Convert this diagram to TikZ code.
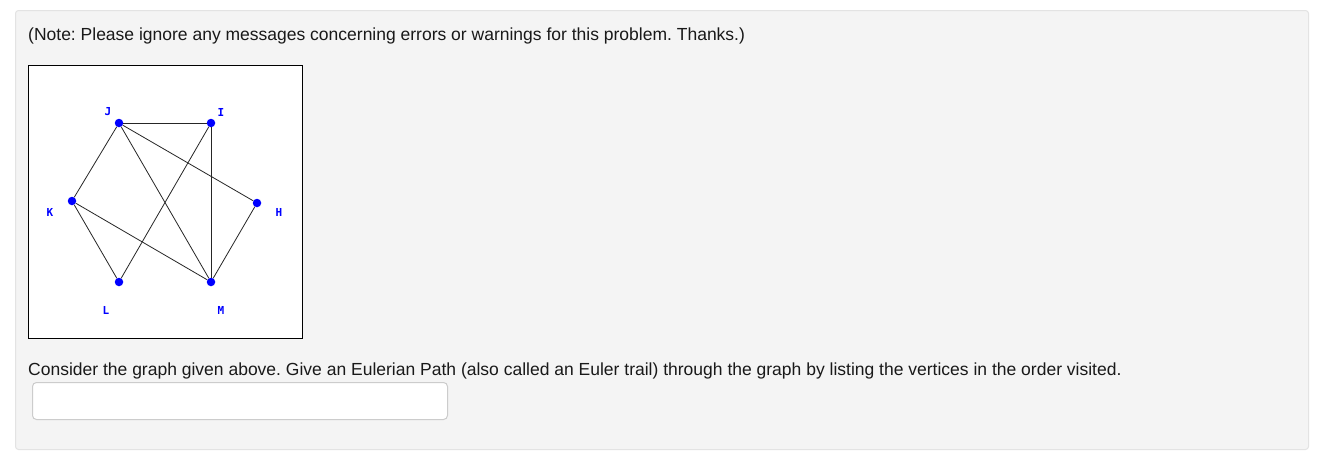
\documentclass[tikz,border=0pt]{standalone}
\usepackage{fontspec}
\setmainfont{Liberation Sans}
\newfontfamily\lblfont{DejaVu Sans Mono}
\definecolor{panelbg}{HTML}{F4F4F4}
\definecolor{panelbd}{HTML}{E3E3E3}
\definecolor{inputbd}{HTML}{CCCCCC}
\definecolor{vblue}{HTML}{0000FF}
\begin{document}
\begin{tikzpicture}[x=1pt,y=-1pt,
  vtx/.style={circle,fill=vblue,inner sep=0pt,minimum size=8.5pt},
  lbl/.style={text=vblue,font=\lblfont\bfseries\fontsize{11}{11}\selectfont,inner sep=0pt},
  edge/.style={draw=black!85,line width=0.8pt},
  txt/.style={anchor=base west,inner sep=0pt,font=\frenchspacing\fontsize{17.5}{20}\selectfont,text=black!90}]
\useasboundingbox (0,0) rectangle (1324,463);
\fill[white] (0,0) rectangle (1324,463);
\draw[fill=panelbg,draw=panelbd,rounded corners=3pt,line width=1pt] (15.5,10.5) rectangle (1308.5,449.5);
\node[txt] (note) at (28,40) {(Note: Please ignore any messages concerning errors or warnings for this problem. Thanks.)};
\draw[fill=white,draw=black,line width=1pt] (28.5,65.5) rectangle (302.5,338.5);
\node[vtx] (J) at (119,123) {};
\node[vtx] (I) at (211,123) {};
\node[vtx] (K) at (72,201) {};
\node[vtx] (H) at (257,203) {};
\node[vtx] (L) at (119,282) {};
\node[vtx] (M) at (211,282) {};
\draw[edge] (J) -- (I);
\draw[edge] (J) -- (K);
\draw[edge] (J) -- (M);
\draw[edge] (J) -- (H);
\draw[edge] (I) -- (L);
\draw[edge] (I) -- (M);
\draw[edge] (K) -- (L);
\draw[edge] (K) -- (M);
\draw[edge] (H) -- (M);
\node[lbl] (lJ) at (108,112) {J};
\node[lbl] (lI) at (221,112) {I};
\node[lbl] (lK) at (50,212) {K};
\node[lbl] (lH) at (279,212) {H};
\node[lbl] (lL) at (106,310) {L};
\node[lbl] (lM) at (221,310) {M};
\node[txt] (q) at (28,375) {Consider the graph given above. Give an Eulerian Path (also called an Euler trail) through the graph by listing the vertices in the order visited.};
\draw[fill=white,draw=inputbd,rounded corners=4pt,line width=1pt] (32.5,382.5) rectangle (447.5,419.5);
\end{tikzpicture}
\end{document}
